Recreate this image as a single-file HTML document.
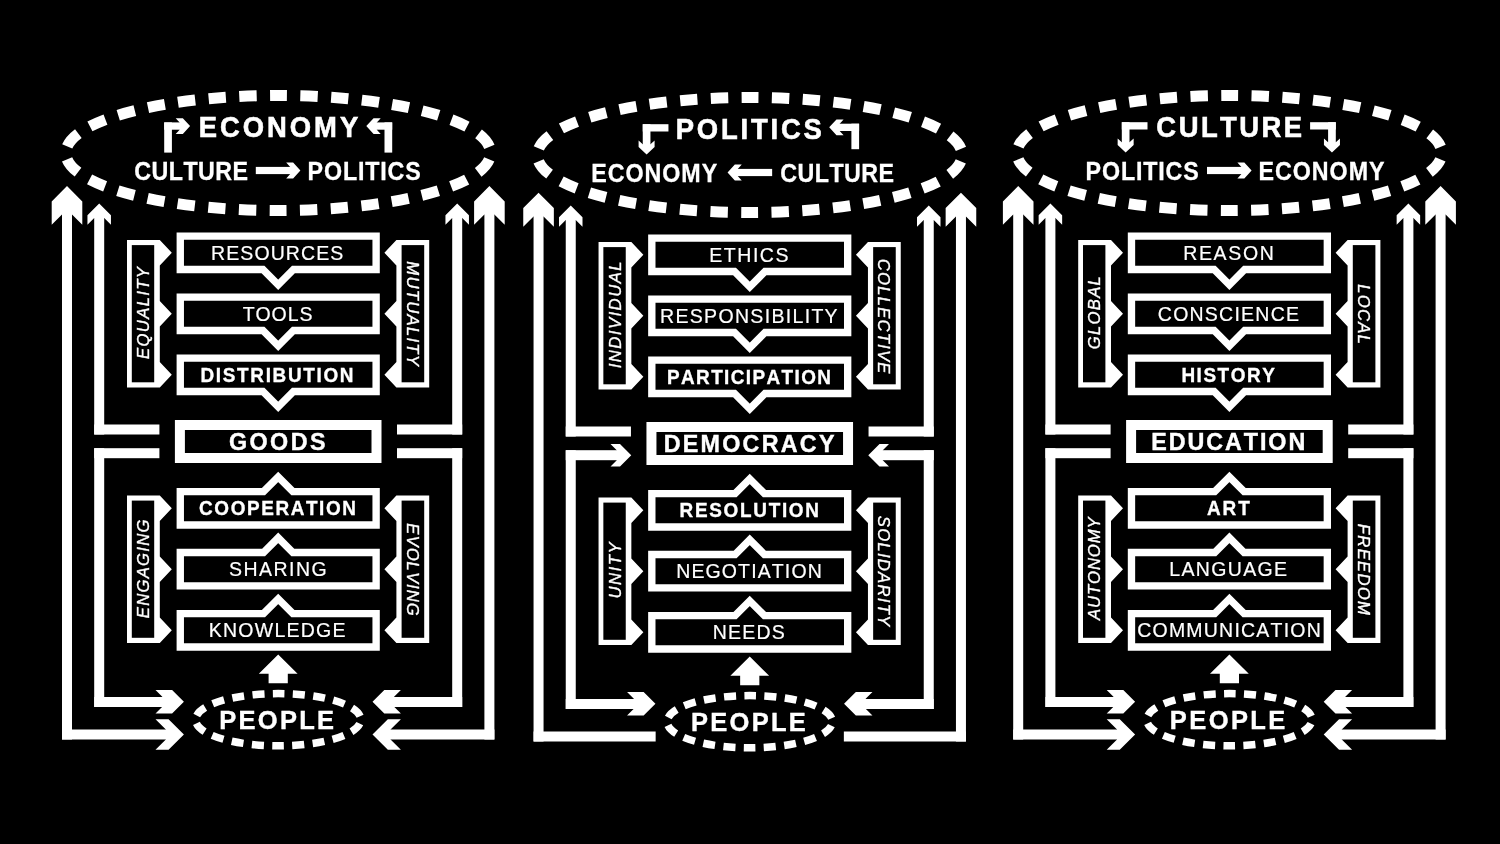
<!DOCTYPE html>
<html lang="en">
<head>
<meta charset="utf-8">
<title>Economy, Politics, Culture</title>
<style>
html,body{margin:0;padding:0;background:#000;}
body{width:1500px;height:844px;overflow:hidden;}
svg{display:block;will-change:transform;}
svg text{font-family:"Liberation Sans",Arial,Helvetica,sans-serif;fill:#fff;font-kerning:none;}
.w{fill:#fff;}
.k{fill:#000;}
.bx{fill:#000;stroke:#fff;stroke-linejoin:miter;stroke-miterlimit:10;}
.dash{fill:none;stroke:#fff;}
</style>
</head>
<body>
<svg width="1500" height="844" viewBox="0 0 1500 844">
<rect width="1500" height="844" fill="#000"/>
<g>
<ellipse class="dash" cx="278.2" cy="153" rx="212.4" ry="57.5" stroke-width="11" stroke-dasharray="17.2000 13.4437" stroke-dashoffset="23.9219"/>
<text transform="translate(200.2 136.81) scale(0.945 1)" x="-1.64" y="0" font-size="29" font-weight="700" letter-spacing="3.176" stroke="#fff" stroke-width="0.6">ECONOMY</text>
<text transform="translate(135 179.6) scale(0.93 1)" x="-0.88" y="0" font-size="25" font-weight="700" letter-spacing="0.521" stroke="#fff" stroke-width="0.3">CULTURE</text>
<text transform="translate(309 179.6) scale(0.93 1)" x="-1.52" y="0" font-size="25" font-weight="700" letter-spacing="0.917" stroke="#fff" stroke-width="0.3">POLITICS</text>
<polygon class="w" points="300.4,170.5 293.12,162.5 286.2,162.5 290.2,166.9 290.2,174.1 286.2,178.5 293.12,178.5"/>
<rect class="w" x="255.8" y="166.9" width="36.4" height="7.2"/>
<rect class="w" x="164.2" y="122.4" width="7.7" height="30.2"/>
<polygon class="w" points="190.1,126.05 182.83,118.15 175.7,118.15 179.61,122.4 179.61,129.7 175.7,133.95 182.83,133.95"/>
<rect class="w" x="164.2" y="122.4" width="17.41" height="7.3"/>
<rect class="w" x="384.5" y="122.4" width="7.7" height="30.2"/>
<polygon class="w" points="366.3,126.05 373.57,118.15 380.7,118.15 376.79,122.4 376.79,129.7 380.7,133.95 373.57,133.95"/>
<rect class="w" x="374.79" y="122.4" width="17.41" height="7.3"/>
<polygon class="bx" stroke-width="7.35" points="180.28,236.12 376.12,236.12 376.12,269.47 293.5,269.47 278.2,284.77 262.9,269.47 180.28,269.47"/>
<text x="211.1" y="259.66" font-size="19.5" letter-spacing="1.084" stroke="#fff" stroke-width="0.2">RESOURCES</text>
<polygon class="bx" stroke-width="7.35" points="180.28,297.12 376.12,297.12 376.12,330.47 293.5,330.47 278.2,345.77 262.9,330.47 180.28,330.47"/>
<text x="242.66" y="320.66" font-size="19.5" letter-spacing="0.909" stroke="#fff" stroke-width="0.2">TOOLS</text>
<polygon class="bx" stroke-width="7.35" points="180.28,358.12 376.12,358.12 376.12,391.47 293.5,391.47 278.2,406.77 262.9,391.47 180.28,391.47"/>
<text transform="translate(201.6 381.73) scale(0.96 1)" x="-1.14" y="0" font-size="19.7" font-weight="700" letter-spacing="1.754" stroke="#fff" stroke-width="0.35">DISTRIBUTION</text>
<polygon class="bx" stroke-width="7.35" points="180.28,491.62 263.5,491.62 278.2,476.93 292.9,491.62 376.12,491.62 376.12,524.98 180.28,524.98"/>
<text transform="translate(199.7 515.23) scale(0.96 1)" x="-0.63" y="0" font-size="19.7" font-weight="700" letter-spacing="1.679" stroke="#fff" stroke-width="0.35">COOPERATION</text>
<polygon class="bx" stroke-width="7.35" points="180.28,552.52 263.5,552.52 278.2,537.82 292.9,552.52 376.12,552.52 376.12,585.88 180.28,585.88"/>
<text x="228.91" y="576.06" font-size="19.5" letter-spacing="1.483" stroke="#fff" stroke-width="0.2">SHARING</text>
<polygon class="bx" stroke-width="7.35" points="180.28,613.62 263.5,613.62 278.2,598.92 292.9,613.62 376.12,613.62 376.12,646.98 180.28,646.98"/>
<text x="208.7" y="637.16" font-size="19.5" letter-spacing="1.259" stroke="#fff" stroke-width="0.2">KNOWLEDGE</text>
<polygon class="bx" stroke-width="10" points="179.9,425.05 376.5,425.05 376.5,457.9 179.9,457.9"/>
<text x="228.94" y="449.68" font-size="23.3" font-weight="700" letter-spacing="2.457" stroke="#fff" stroke-width="0.4">GOODS</text>
<polygon class="w" points="127,240 159.8,240 159.8,240 171.8,252.8 159.8,265.6 159.8,301 171.8,313.8 159.8,326.6 159.8,362 171.8,374.8 159.8,387.6 159.8,387.6 127,387.6"/>
<rect class="k" x="131.8" y="245.1" width="22.4" height="137.2"/>
<text transform="translate(143.4 358.7) rotate(-90)" x="-0.34" y="5.88" font-size="16.7" font-style="italic" letter-spacing="1.352" stroke="#fff" stroke-width="0.35">EQUALITY</text>
<polygon class="w" points="429.2,240 396.4,240 396.4,240 384.4,252.8 396.4,265.6 396.4,301 384.4,313.8 396.4,326.6 396.4,362 384.4,374.8 396.4,387.6 396.4,387.6 429.2,387.6"/>
<rect class="k" x="401.6" y="245.1" width="22.6" height="137.2"/>
<text transform="translate(412.4 261.6) rotate(90)" x="-0.34" y="5.88" font-size="16.7" font-style="italic" letter-spacing="1.265" stroke="#fff" stroke-width="0.35">MUTUALITY</text>
<polygon class="w" points="127,495.5 159.8,495.5 159.8,495.5 171.8,508.3 159.8,521.1 159.8,556.4 171.8,569.2 159.8,582 159.8,617.5 171.8,630.3 159.8,643.1 159.8,643.1 127,643.1"/>
<rect class="k" x="131.8" y="500.6" width="22.4" height="137.2"/>
<text transform="translate(143.4 617.8) rotate(-90)" x="-0.34" y="5.88" font-size="16.7" font-style="italic" letter-spacing="1.239" stroke="#fff" stroke-width="0.35">ENGAGING</text>
<polygon class="w" points="429.2,495.5 396.4,495.5 396.4,495.5 384.4,508.3 396.4,521.1 396.4,556.4 384.4,569.2 396.4,582 396.4,617.5 384.4,630.3 396.4,643.1 396.4,643.1 429.2,643.1"/>
<rect class="k" x="401.6" y="500.6" width="22.6" height="137.2"/>
<text transform="translate(412.4 523.7) rotate(90)" x="-0.34" y="5.88" font-size="16.7" font-style="italic" letter-spacing="1.000" stroke="#fff" stroke-width="0.35">EVOLVING</text>
<polygon class="w" points="67,186.1 51.7,201.4 51.7,224.8 62,214.5 72,214.5 82.3,224.8 82.3,201.4"/>
<rect class="w" x="62" y="212.5" width="10" height="527"/>
<polygon class="w" points="183.9,734.5 168.55,719.15 155.5,719.15 165.85,729.5 165.85,739.5 155.5,749.85 168.55,749.85"/>
<rect class="w" x="62" y="729.5" width="105.85" height="10"/>
<polygon class="w" points="99.2,203.6 87.45,215.35 87.45,224.8 94.2,218.05 104.2,218.05 110.95,224.8 110.95,215.35"/>
<rect class="w" x="94.2" y="216.05" width="10" height="218.45"/>
<rect class="w" x="94.2" y="424.5" width="65.2" height="10"/>
<rect class="w" x="94.2" y="448.2" width="10" height="258.8"/>
<rect class="w" x="94.2" y="448.2" width="65.2" height="10"/>
<polygon class="w" points="183.9,701.8 172.1,690 155.5,690 162.3,696.8 162.3,706.8 155.5,713.6 172.1,713.6"/>
<rect class="w" x="94.2" y="697" width="70.1" height="10"/>
<polygon class="w" points="489.4,186.1 474.1,201.4 474.1,224.8 484.4,214.5 494.4,214.5 504.7,224.8 504.7,201.4"/>
<rect class="w" x="484.4" y="212.5" width="10" height="527"/>
<polygon class="w" points="372.5,734.5 387.85,719.15 400.9,719.15 390.55,729.5 390.55,739.5 400.9,749.85 387.85,749.85"/>
<rect class="w" x="388.55" y="729.5" width="105.85" height="10"/>
<polygon class="w" points="457.2,203.6 445.45,215.35 445.45,224.8 452.2,218.05 462.2,218.05 468.95,224.8 468.95,215.35"/>
<rect class="w" x="452.2" y="216.05" width="10" height="218.45"/>
<rect class="w" x="397" y="424.5" width="65.2" height="10"/>
<rect class="w" x="452.2" y="448.2" width="10" height="258.8"/>
<rect class="w" x="397" y="448.2" width="65.2" height="10"/>
<polygon class="w" points="372.5,701.8 384.3,690 400.9,690 394.1,696.8 394.1,706.8 400.9,713.6 384.3,713.6"/>
<rect class="w" x="392.1" y="697" width="70.1" height="10"/>
<ellipse class="dash" cx="278.2" cy="719.7" rx="82.6" ry="26.1" stroke-width="7.5" stroke-dasharray="11.9000 8.3764" stroke-dashoffset="16.0882"/>
<text transform="translate(220.7 729.15) scale(0.98 1)" x="-1.54" y="0" font-size="26" font-weight="700" letter-spacing="2.356" stroke="#fff" stroke-width="0.4">PEOPLE</text>
<polygon class="w" points="278.2,654.5 297.6,673.8 287.8,673.8 287.8,683.3 268.6,683.3 268.6,673.8 258.8,673.8"/>
</g>
<g>
<ellipse class="dash" cx="749.75" cy="155" rx="212.4" ry="57.5" stroke-width="11" stroke-dasharray="17.2000 13.4437" stroke-dashoffset="23.9219"/>
<text transform="translate(677.3 138.81) scale(0.945 1)" x="-1.64" y="0" font-size="29" font-weight="700" letter-spacing="2.988" stroke="#fff" stroke-width="0.6">POLITICS</text>
<text transform="translate(592.7 181.6) scale(0.93 1)" x="-1.52" y="0" font-size="25" font-weight="700" letter-spacing="1.043" stroke="#fff" stroke-width="0.3">ECONOMY</text>
<text transform="translate(781 181.6) scale(0.93 1)" x="-0.88" y="0" font-size="25" font-weight="700" letter-spacing="0.521" stroke="#fff" stroke-width="0.3">CULTURE</text>
<polygon class="w" points="727.55,172.5 734.83,164.5 741.75,164.5 737.75,168.9 737.75,176.1 741.75,180.5 734.83,180.5"/>
<rect class="w" x="735.75" y="168.9" width="36.4" height="7.2"/>
<rect class="w" x="642.75" y="124.2" width="25.7" height="7.3"/>
<polygon class="w" points="646.6,154.6 638.6,147.08 638.6,140.4 642.75,144.3 650.45,144.3 654.6,140.4 654.6,147.08"/>
<rect class="w" x="642.75" y="124.2" width="7.7" height="22.1"/>
<rect class="w" x="851.4" y="123.7" width="7.7" height="25.5"/>
<polygon class="w" points="829.2,127.35 836.47,119.45 843.6,119.45 839.69,123.7 839.69,131 843.6,135.25 836.47,135.25"/>
<rect class="w" x="837.69" y="123.7" width="21.41" height="7.3"/>
<polygon class="bx" stroke-width="7.35" points="651.82,238.12 847.68,238.12 847.68,271.47 765.05,271.47 749.75,286.77 734.45,271.47 651.82,271.47"/>
<text x="709.3" y="261.66" font-size="19.5" letter-spacing="1.538" stroke="#fff" stroke-width="0.2">ETHICS</text>
<polygon class="bx" stroke-width="7.35" points="651.82,299.12 847.68,299.12 847.68,332.47 765.05,332.47 749.75,347.77 734.45,332.47 651.82,332.47"/>
<text x="660" y="322.66" font-size="19.5" letter-spacing="1.327" stroke="#fff" stroke-width="0.2">RESPONSIBILITY</text>
<polygon class="bx" stroke-width="7.35" points="651.82,360.12 847.68,360.12 847.68,393.47 765.05,393.47 749.75,408.77 734.45,393.47 651.82,393.47"/>
<text transform="translate(668.1 383.73) scale(0.96 1)" x="-1.14" y="0" font-size="19.7" font-weight="700" letter-spacing="1.468" stroke="#fff" stroke-width="0.35">PARTICIPATION</text>
<polygon class="bx" stroke-width="7.35" points="651.82,493.62 735.05,493.62 749.75,478.93 764.45,493.62 847.68,493.62 847.68,526.98 651.82,526.98"/>
<text transform="translate(680.7 517.23) scale(0.96 1)" x="-1.14" y="0" font-size="19.7" font-weight="700" letter-spacing="1.785" stroke="#fff" stroke-width="0.35">RESOLUTION</text>
<polygon class="bx" stroke-width="7.35" points="651.82,554.52 735.05,554.52 749.75,539.82 764.45,554.52 847.68,554.52 847.68,587.88 651.82,587.88"/>
<text x="676.2" y="578.06" font-size="19.5" letter-spacing="1.125" stroke="#fff" stroke-width="0.2">NEGOTIATION</text>
<polygon class="bx" stroke-width="7.35" points="651.82,615.62 735.05,615.62 749.75,600.92 764.45,615.62 847.68,615.62 847.68,648.98 651.82,648.98"/>
<text x="712.7" y="639.16" font-size="19.5" letter-spacing="1.203" stroke="#fff" stroke-width="0.2">NEEDS</text>
<polygon class="bx" stroke-width="10" points="651.45,427.05 848.05,427.05 848.05,459.9 651.45,459.9"/>
<text x="663.64" y="451.68" font-size="23.3" font-weight="700" letter-spacing="2.261" stroke="#fff" stroke-width="0.4">DEMOCRACY</text>
<polygon class="w" points="598.55,242 631.35,242 631.35,242 643.35,254.8 631.35,267.6 631.35,303 643.35,315.8 631.35,328.6 631.35,364 643.35,376.8 631.35,389.6 631.35,389.6 598.55,389.6"/>
<rect class="k" x="603.35" y="247.1" width="22.4" height="137.2"/>
<text transform="translate(614.95 367.8) rotate(-90)" x="-0.49" y="5.88" font-size="16.7" font-style="italic" letter-spacing="1.461" stroke="#fff" stroke-width="0.35">INDIVIDUAL</text>
<polygon class="w" points="900.75,242 867.95,242 867.95,242 855.95,254.8 867.95,267.6 867.95,303 855.95,315.8 867.95,328.6 867.95,364 855.95,376.8 867.95,389.6 867.95,389.6 900.75,389.6"/>
<rect class="k" x="873.15" y="247.1" width="22.6" height="137.2"/>
<text transform="translate(883.95 259.6) rotate(90)" x="-0.75" y="5.88" font-size="16.7" font-style="italic" letter-spacing="1.186" stroke="#fff" stroke-width="0.35">COLLECTIVE</text>
<polygon class="w" points="598.55,497.5 631.35,497.5 631.35,497.5 643.35,510.3 631.35,523.1 631.35,558.4 643.35,571.2 631.35,584 631.35,619.5 643.35,632.3 631.35,645.1 631.35,645.1 598.55,645.1"/>
<rect class="k" x="603.35" y="502.6" width="22.4" height="137.2"/>
<text transform="translate(614.95 597.5) rotate(-90)" x="-1.07" y="5.88" font-size="16.7" font-style="italic" letter-spacing="1.524" stroke="#fff" stroke-width="0.35">UNITY</text>
<polygon class="w" points="900.75,497.5 867.95,497.5 867.95,497.5 855.95,510.3 867.95,523.1 867.95,558.4 855.95,571.2 867.95,584 867.95,619.5 855.95,632.3 867.95,645.1 867.95,645.1 900.75,645.1"/>
<rect class="k" x="873.15" y="502.6" width="22.6" height="137.2"/>
<text transform="translate(883.95 516.1) rotate(90)" x="-0.3" y="5.88" font-size="16.7" font-style="italic" letter-spacing="1.247" stroke="#fff" stroke-width="0.35">SOLIDARITY</text>
<polygon class="w" points="538.55,192.75 523.25,208.05 523.25,226.8 533.55,216.5 543.55,216.5 553.85,226.8 553.85,208.05"/>
<rect class="w" x="533.55" y="214.5" width="10" height="527"/>
<rect class="w" x="533.55" y="731.5" width="122.1" height="10"/>
<polygon class="w" points="570.75,205.6 559,217.35 559,226.8 565.75,220.05 575.75,220.05 582.5,226.8 582.5,217.35"/>
<rect class="w" x="565.75" y="218.05" width="10" height="218.45"/>
<rect class="w" x="565.75" y="426.5" width="65.2" height="10"/>
<rect class="w" x="565.75" y="450.2" width="10" height="258.8"/>
<polygon class="w" points="631.25,455.2 620,443.95 610.5,443.95 616.75,450.2 616.75,460.2 610.5,466.45 620,466.45"/>
<rect class="w" x="565.75" y="450.2" width="53" height="10"/>
<polygon class="w" points="655.45,703.8 643.65,692 627.05,692 633.85,698.8 633.85,708.8 627.05,715.6 643.65,715.6"/>
<rect class="w" x="565.75" y="699" width="70.1" height="10"/>
<polygon class="w" points="960.95,192.75 945.65,208.05 945.65,226.8 955.95,216.5 965.95,216.5 976.25,226.8 976.25,208.05"/>
<rect class="w" x="955.95" y="214.5" width="10" height="527"/>
<rect class="w" x="843.85" y="731.5" width="122.1" height="10"/>
<polygon class="w" points="928.75,205.6 917,217.35 917,226.8 923.75,220.05 933.75,220.05 940.5,226.8 940.5,217.35"/>
<rect class="w" x="923.75" y="218.05" width="10" height="218.45"/>
<rect class="w" x="868.55" y="426.5" width="65.2" height="10"/>
<rect class="w" x="923.75" y="450.2" width="10" height="258.8"/>
<polygon class="w" points="868.25,455.2 879.5,443.95 889,443.95 882.75,450.2 882.75,460.2 889,466.45 879.5,466.45"/>
<rect class="w" x="880.75" y="450.2" width="53" height="10"/>
<polygon class="w" points="844.05,703.8 855.85,692 872.45,692 865.65,698.8 865.65,708.8 872.45,715.6 855.85,715.6"/>
<rect class="w" x="863.65" y="699" width="70.1" height="10"/>
<ellipse class="dash" cx="749.75" cy="721.7" rx="82.6" ry="26.1" stroke-width="7.5" stroke-dasharray="11.9000 8.3764" stroke-dashoffset="16.0882"/>
<text transform="translate(692.5 731.15) scale(0.98 1)" x="-1.54" y="0" font-size="26" font-weight="700" letter-spacing="2.336" stroke="#fff" stroke-width="0.4">PEOPLE</text>
<polygon class="w" points="749.75,656.5 769.15,675.8 759.35,675.8 759.35,685.3 740.15,685.3 740.15,675.8 730.35,675.8"/>
</g>
<g>
<ellipse class="dash" cx="1229.4" cy="153" rx="212.4" ry="57.5" stroke-width="11" stroke-dasharray="17.2000 13.4437" stroke-dashoffset="23.9219"/>
<text transform="translate(1157.2 136.81) scale(0.945 1)" x="-0.89" y="0" font-size="29" font-weight="700" letter-spacing="2.629" stroke="#fff" stroke-width="0.6">CULTURE</text>
<text transform="translate(1087 179.6) scale(0.93 1)" x="-1.52" y="0" font-size="25" font-weight="700" letter-spacing="0.917" stroke="#fff" stroke-width="0.3">POLITICS</text>
<text transform="translate(1260 179.6) scale(0.93 1)" x="-1.52" y="0" font-size="25" font-weight="700" letter-spacing="1.043" stroke="#fff" stroke-width="0.3">ECONOMY</text>
<polygon class="w" points="1251.6,170.5 1244.32,162.5 1237.4,162.5 1241.4,166.9 1241.4,174.1 1237.4,178.5 1244.32,178.5"/>
<rect class="w" x="1207" y="166.9" width="36.4" height="7.2"/>
<rect class="w" x="1121.8" y="122.2" width="25.7" height="7.3"/>
<polygon class="w" points="1125.65,152.6 1117.65,145.08 1117.65,138.4 1121.8,142.3 1129.5,142.3 1133.65,138.4 1133.65,145.08"/>
<rect class="w" x="1121.8" y="122.2" width="7.7" height="22.1"/>
<rect class="w" x="1310.1" y="122.2" width="25.7" height="7.3"/>
<polygon class="w" points="1331.95,152.6 1323.95,145.08 1323.95,138.4 1328.1,142.3 1335.8,142.3 1339.95,138.4 1339.95,145.08"/>
<rect class="w" x="1328.1" y="122.2" width="7.7" height="22.1"/>
<polygon class="bx" stroke-width="7.35" points="1131.48,236.12 1327.33,236.12 1327.33,269.47 1244.7,269.47 1229.4,284.77 1214.1,269.47 1131.48,269.47"/>
<text x="1183.2" y="259.66" font-size="19.5" letter-spacing="1.648" stroke="#fff" stroke-width="0.2">REASON</text>
<polygon class="bx" stroke-width="7.35" points="1131.48,297.12 1327.33,297.12 1327.33,330.47 1244.7,330.47 1229.4,345.77 1214.1,330.47 1131.48,330.47"/>
<text x="1157.81" y="320.66" font-size="19.5" letter-spacing="1.246" stroke="#fff" stroke-width="0.2">CONSCIENCE</text>
<polygon class="bx" stroke-width="7.35" points="1131.48,358.12 1327.33,358.12 1327.33,391.47 1244.7,391.47 1229.4,406.77 1214.1,391.47 1131.48,391.47"/>
<text transform="translate(1182.5 381.73) scale(0.96 1)" x="-1.14" y="0" font-size="19.7" font-weight="700" letter-spacing="1.627" stroke="#fff" stroke-width="0.35">HISTORY</text>
<polygon class="bx" stroke-width="7.35" points="1131.48,491.62 1214.7,491.62 1229.4,476.93 1244.1,491.62 1327.33,491.62 1327.33,524.98 1131.48,524.98"/>
<text transform="translate(1207.2 515.23) scale(0.96 1)" x="-0.32" y="0" font-size="19.7" font-weight="700" letter-spacing="2.120" stroke="#fff" stroke-width="0.35">ART</text>
<polygon class="bx" stroke-width="7.35" points="1131.48,552.52 1214.7,552.52 1229.4,537.82 1244.1,552.52 1327.33,552.52 1327.33,585.88 1131.48,585.88"/>
<text x="1169.2" y="576.06" font-size="19.5" letter-spacing="1.353" stroke="#fff" stroke-width="0.2">LANGUAGE</text>
<polygon class="bx" stroke-width="7.35" points="1131.48,613.62 1214.7,613.62 1229.4,598.92 1244.1,613.62 1327.33,613.62 1327.33,646.98 1131.48,646.98"/>
<text x="1137.21" y="637.16" font-size="19.5" letter-spacing="1.216" stroke="#fff" stroke-width="0.2">COMMUNICATION</text>
<polygon class="bx" stroke-width="10" points="1131.1,425.05 1327.7,425.05 1327.7,457.9 1131.1,457.9"/>
<text x="1151.24" y="449.68" font-size="23.3" font-weight="700" letter-spacing="1.941" stroke="#fff" stroke-width="0.4">EDUCATION</text>
<polygon class="w" points="1078.2,240 1111,240 1111,240 1123,252.8 1111,265.6 1111,301 1123,313.8 1111,326.6 1111,362 1123,374.8 1111,387.6 1111,387.6 1078.2,387.6"/>
<rect class="k" x="1083" y="245.1" width="22.4" height="137.2"/>
<text transform="translate(1094.6 348.6) rotate(-90)" x="-0.65" y="5.88" font-size="16.7" font-style="italic" letter-spacing="1.261" stroke="#fff" stroke-width="0.35">GLOBAL</text>
<polygon class="w" points="1380.4,240 1347.6,240 1347.6,240 1335.6,252.8 1347.6,265.6 1347.6,301 1335.6,313.8 1347.6,326.6 1347.6,362 1335.6,374.8 1347.6,387.6 1347.6,387.6 1380.4,387.6"/>
<rect class="k" x="1352.8" y="245.1" width="22.6" height="137.2"/>
<text transform="translate(1363.6 284.6) rotate(90)" x="-0.34" y="5.88" font-size="16.7" font-style="italic" letter-spacing="1.241" stroke="#fff" stroke-width="0.35">LOCAL</text>
<polygon class="w" points="1078.2,495.5 1111,495.5 1111,495.5 1123,508.3 1111,521.1 1111,556.4 1123,569.2 1111,582 1111,617.5 1123,630.3 1111,643.1 1111,643.1 1078.2,643.1"/>
<rect class="k" x="1083" y="500.6" width="22.4" height="137.2"/>
<text transform="translate(1094.6 621.1) rotate(-90)" x="1" y="5.88" font-size="16.7" font-style="italic" letter-spacing="0.905" stroke="#fff" stroke-width="0.35">AUTONOMY</text>
<polygon class="w" points="1380.4,495.5 1347.6,495.5 1347.6,495.5 1335.6,508.3 1347.6,521.1 1347.6,556.4 1335.6,569.2 1347.6,582 1347.6,617.5 1335.6,630.3 1347.6,643.1 1347.6,643.1 1380.4,643.1"/>
<rect class="k" x="1352.8" y="500.6" width="22.6" height="137.2"/>
<text transform="translate(1363.6 524.2) rotate(90)" x="-0.34" y="5.88" font-size="16.7" font-style="italic" letter-spacing="1.261" stroke="#fff" stroke-width="0.35">FREEDOM</text>
<polygon class="w" points="1018.2,186.1 1002.9,201.4 1002.9,224.8 1013.2,214.5 1023.2,214.5 1033.5,224.8 1033.5,201.4"/>
<rect class="w" x="1013.2" y="212.5" width="10" height="527"/>
<polygon class="w" points="1135.1,734.5 1119.75,719.15 1106.7,719.15 1117.05,729.5 1117.05,739.5 1106.7,749.85 1119.75,749.85"/>
<rect class="w" x="1013.2" y="729.5" width="105.85" height="10"/>
<polygon class="w" points="1050.4,203.6 1038.65,215.35 1038.65,224.8 1045.4,218.05 1055.4,218.05 1062.15,224.8 1062.15,215.35"/>
<rect class="w" x="1045.4" y="216.05" width="10" height="218.45"/>
<rect class="w" x="1045.4" y="424.5" width="65.2" height="10"/>
<rect class="w" x="1045.4" y="448.2" width="10" height="258.8"/>
<rect class="w" x="1045.4" y="448.2" width="65.2" height="10"/>
<polygon class="w" points="1135.1,701.8 1123.3,690 1106.7,690 1113.5,696.8 1113.5,706.8 1106.7,713.6 1123.3,713.6"/>
<rect class="w" x="1045.4" y="697" width="70.1" height="10"/>
<polygon class="w" points="1440.6,186.1 1425.3,201.4 1425.3,224.8 1435.6,214.5 1445.6,214.5 1455.9,224.8 1455.9,201.4"/>
<rect class="w" x="1435.6" y="212.5" width="10" height="527"/>
<polygon class="w" points="1323.7,734.5 1339.05,719.15 1352.1,719.15 1341.75,729.5 1341.75,739.5 1352.1,749.85 1339.05,749.85"/>
<rect class="w" x="1339.75" y="729.5" width="105.85" height="10"/>
<polygon class="w" points="1408.4,203.6 1396.65,215.35 1396.65,224.8 1403.4,218.05 1413.4,218.05 1420.15,224.8 1420.15,215.35"/>
<rect class="w" x="1403.4" y="216.05" width="10" height="218.45"/>
<rect class="w" x="1348.2" y="424.5" width="65.2" height="10"/>
<rect class="w" x="1403.4" y="448.2" width="10" height="258.8"/>
<rect class="w" x="1348.2" y="448.2" width="65.2" height="10"/>
<polygon class="w" points="1323.7,701.8 1335.5,690 1352.1,690 1345.3,696.8 1345.3,706.8 1352.1,713.6 1335.5,713.6"/>
<rect class="w" x="1343.3" y="697" width="70.1" height="10"/>
<ellipse class="dash" cx="1229.4" cy="719.7" rx="82.6" ry="26.1" stroke-width="7.5" stroke-dasharray="11.9000 8.3764" stroke-dashoffset="16.0882"/>
<text transform="translate(1171.3 729.15) scale(0.98 1)" x="-1.54" y="0" font-size="26" font-weight="700" letter-spacing="2.478" stroke="#fff" stroke-width="0.4">PEOPLE</text>
<polygon class="w" points="1229.4,654.5 1248.8,673.8 1239,673.8 1239,683.3 1219.8,683.3 1219.8,673.8 1210,673.8"/>
</g>
</svg>
</body>
</html>
